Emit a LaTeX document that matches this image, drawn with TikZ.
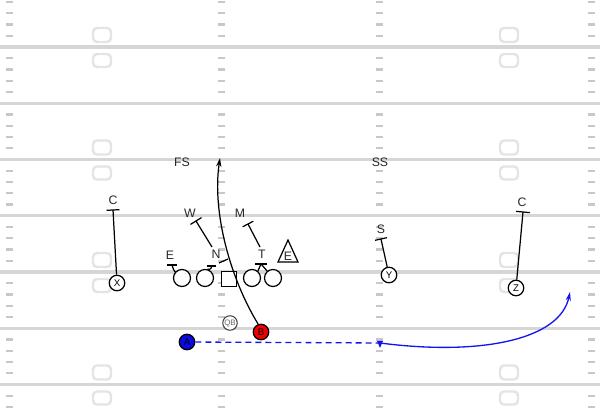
\documentclass[tikz,border=0pt]{standalone}
\usepackage{fontspec}
\setmainfont{Liberation Sans}
\usetikzlibrary{arrows.meta, calc}
\definecolor{fieldline}{RGB}{214,214,214}
\definecolor{hashgray}{RGB}{200,200,200}
\definecolor{numgray}{RGB}{228,228,228}
\definecolor{routeblue}{RGB}{20,20,240}
\definecolor{ablue}{RGB}{10,10,225}
\definecolor{bred}{RGB}{240,0,0}
\tikzset{yardline/.style={draw=fieldline, line width=1.8pt}}
\tikzset{hashmark/.style={draw=hashgray, line width=1.4pt}}
\tikzset{numbox/.style={draw=numgray, line width=1.4pt, rounded corners=2.3pt}}
\tikzset{oman/.style={circle, draw=black, line width=0.7pt, fill=white, minimum size=0.34cm, inner sep=0pt}}
\tikzset{ocenter/.style={rectangle, draw=black, line width=0.7pt, fill=white, minimum size=0.3cm, inner sep=0pt}}
\tikzset{skill/.style={circle, draw=black, line width=0.7pt, fill=white, minimum size=0.31cm, inner sep=0pt, font=\fontsize{5.5}{6}\selectfont}}
\tikzset{qbman/.style={circle, draw=black!75, line width=0.6pt, fill=white, minimum size=0.29cm, inner sep=0pt, text=black!60, font=\fontsize{4.5}{5}\selectfont}}
\tikzset{deflabel/.style={inner sep=0pt, text=black!85, font=\fontsize{7}{8}\selectfont}}
\tikzset{bar/.style={draw=black, line width=0.7pt}}
\tikzset{assign/.style={draw=black, line width=0.7pt}}
\tikzset{route/.style={draw=black, line width=0.7pt, -{Stealth[length=5pt, width=3pt]}}}
\tikzset{motion/.style={draw=routeblue, line width=0.75pt, dash pattern=on 3.4pt off 2.3pt}}
\tikzset{pass/.style={draw=routeblue, line width=0.75pt, -{Stealth[length=5pt, width=3pt]}}}

\begin{document}
\begin{tikzpicture}[x=0.02cm, y=-0.02cm]
    \useasboundingbox (0,0) rectangle (600,411);

    % field
    \foreach \ly in {47,103.25,159.5,215.75,272,328.25,384.5}
        \draw[yardline] (0,\ly) -- (600,\ly);
    \foreach \hx in {9.5,222,379.5,591.5}
        \foreach \k in {0,...,36} {
            \pgfmathtruncatemacro\r{mod(\k,5)}
            \ifnum\r=4 \else
                \draw[hashmark] (\hx-3.5,2+11.25*\k) -- (\hx+3.5,2+11.25*\k);
            \fi
        }
    \foreach \ny in {47,159.5,272,384.5}
        \foreach \nx in {102,509} {
            \draw[numbox] (\nx-9,\ny-19) rectangle (\nx+9,\ny-5);
            \draw[numbox] (\nx-9,\ny+7) rectangle (\nx+9,\ny+20);
        }

    % offense
    \node[oman] (lt) at (182,278) {};
    \node[oman] (lg) at (205,278) {};
    \node[ocenter] (cen) at (229,279) {};
    \node[oman] (rg) at (252,278) {};
    \node[oman] (rt) at (273,278) {};
    \node[skill] (wrx) at (117,283) {X};
    \node[skill] (te) at (389,275) {Y};
    \node[skill] (wrz) at (516,288) {Z};
    \node[qbman] (qb) at (230,323) {QB};
    \node[skill, fill=ablue] (rba) at (187,342) {A};
    \node[skill, fill=bred] (rbb) at (261,332) {B};

    % defense
    \node[deflabel] (fs) at (182,162) {FS};
    \node[deflabel] (ss) at (380,162) {SS};
    \node[deflabel] (cl) at (113,200) {C};
    \node[deflabel] (cr) at (522,202) {C};
    \node[deflabel] (sm) at (381,229) {S};
    \node[deflabel] (wl) at (190,213) {W};
    \node[deflabel] (ml) at (240,213) {M};
    \node[deflabel] (el) at (170,255) {E};
    \node[deflabel] (nt) at (216,254) {N};
    \node[deflabel] (tk) at (262,254) {T};
    \node[deflabel] (er) at (288,256) {E};
    \draw[bar] (er.center) ++(0,-16) -- ++(10,22) -- ++(-20,0) -- cycle;

    % reads
    \coordinate (clbar) at (113,210);
    \coordinate (crbar) at (523,212);
    \coordinate (smbar) at (381,239);
    \coordinate (wlbar) at (196,221);
    \coordinate (wlend) at (212,247);
    \coordinate (mlbar) at (248,224);
    \coordinate (mlend) at (260,247);
    \draw[assign] (clbar) -- (wrx);
    \draw[assign] (crbar) -- (wrz);
    \draw[assign] (smbar) -- (te);
    \draw[assign] (wlbar) -- (wlend);
    \draw[assign] (mlbar) -- (mlend);
    \draw[bar] ($(clbar)!0.13cm!90:(wrx)$) -- ($(clbar)!0.13cm!-90:(wrx)$);
    \draw[bar] ($(crbar)!0.14cm!90:(wrz)$) -- ($(crbar)!0.14cm!-90:(wrz)$);
    \draw[bar] ($(smbar)!0.12cm!90:(te)$) -- ($(smbar)!0.12cm!-90:(te)$);
    \draw[bar] ($(wlbar)!0.13cm!90:(wlend)$) -- ($(wlbar)!0.13cm!-90:(wlend)$);
    \draw[bar] ($(mlbar)!0.12cm!90:(mlend)$) -- ($(mlbar)!0.12cm!-90:(mlend)$);

    % line stunts
    \coordinate (elbar) at (172,265);
    \coordinate (ntbar) at (212,266);
    \coordinate (tkbar) at (261,264);
    \draw[bar] (elbar) ++(-5,0) -- ++(10,0);
    \draw[bar] (elbar) .. controls (174,272) and (176,273) .. (lt.135);
    \draw[bar] (ntbar) ++(-4.5,0) -- ++(9,0);
    \draw[bar] (ntbar) .. controls (211,270) and (208,270) .. (lg.75);
    \draw[bar] (219,263) -- (228,259);
    \draw[bar] (tkbar) ++(-6,0) -- ++(12,0);
    \draw[bar] (tkbar) .. controls (259,268) .. (rg.50);
    \draw[bar] (tkbar) .. controls (264,268) .. (rt.130);

    % routes
    \coordinate (btip) at (220,158);
    \draw[route] (rbb.110) .. controls (230,278) and (212,212) .. (btip);
    \coordinate (pivot) at (380,343);
    \coordinate (aend) at (570,292);
    \draw[motion] (rba) -- (pivot);
    \fill[routeblue] (pivot) ++(-3,-2) -- ++(6,0) -- ++(-3,7) -- cycle;
    \draw[pass] (pivot) .. controls (480,356) and (560,340) .. (aend);
\end{tikzpicture}
\end{document}
